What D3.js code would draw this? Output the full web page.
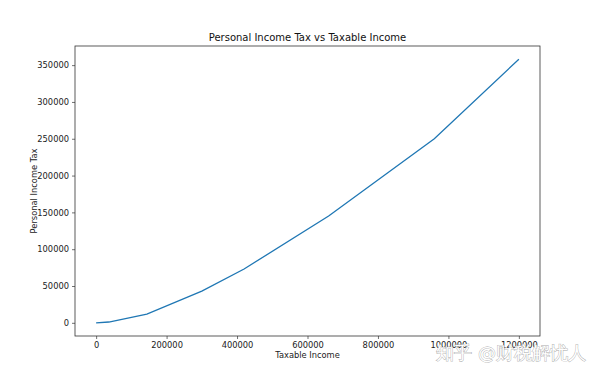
<!DOCTYPE html>
<html>
<head>
<meta charset="utf-8">
<script src="https://cdn.jsdelivr.net/npm/d3@7"></script>
<style>
  body { margin: 0; background: #fff; overflow: hidden; }
  svg { display: block; }
  text { font-family: 'DejaVu Sans', sans-serif; }
  .tick text { font-size: 8.3px; fill: #222; }
  .tick line { stroke: #333; stroke-width: 0.7; }
  .domain { display: none; }
</style>
</head>
<body>
<div id="chart"></div>
<script>
// Chart data (annual brackets)
const taxableIncome = [0, 36000, 144000, 300000, 420000, 660000, 960000, 1200000]
const incomeTax = [0, 1080, 11880, 43080, 73080, 145080, 250080, 358080]
const xTicks = [0, 200000, 400000, 600000, 800000, 1000000, 1200000]
const yTicks = [0, 50000, 100000, 150000, 200000, 250000, 300000, 350000]

const width = 600
const height = 378
const margin = { top: 46, right: 60, bottom: 42, left: 75 }
const innerWidth = width - margin.left - margin.right
const innerHeight = height - margin.top - margin.bottom

const svg = d3.select('#chart')
  .append('svg')
  .attr('width', width)
  .attr('height', height)

const g = svg.append('g')
  .attr('transform', `translate(${margin.left}, ${margin.top})`)

// matplotlib-style 5% padding on each side
const xPad = (d3.max(taxableIncome) - d3.min(taxableIncome)) * 0.05
const yPad = (d3.max(incomeTax) - d3.min(incomeTax)) * 0.05

const x = d3.scaleLinear()
  .domain([d3.min(taxableIncome) - xPad, d3.max(taxableIncome) + xPad])
  .range([0, innerWidth])
const y = d3.scaleLinear()
  .domain([d3.min(incomeTax) - yPad, d3.max(incomeTax) + yPad])
  .range([innerHeight, 0])

// Axes
g.append('g')
  .attr('transform', `translate(0, ${innerHeight})`)
  .call(d3.axisBottom(x).tickValues(xTicks).tickFormat(d3.format('d')).tickSize(3).tickPadding(3))

g.append('g')
  .call(d3.axisLeft(y).tickValues(yTicks).tickFormat(d3.format('d')).tickSize(3).tickPadding(3))

// Frame
g.append('rect')
  .attr('width', innerWidth)
  .attr('height', innerHeight)
  .attr('fill', 'none')
  .attr('stroke', '#333')
  .attr('stroke-width', 0.8)

// Line
const line = d3.line()
  .x((d, i) => x(taxableIncome[i]))
  .y(d => y(d))

g.append('path')
  .datum(incomeTax)
  .attr('fill', 'none')
  .attr('stroke', '#1f77b4')
  .attr('stroke-width', 1.3)
  .attr('d', line)

// Title and labels
svg.append('text')
  .attr('x', margin.left + innerWidth / 2)
  .attr('y', 41)
  .attr('text-anchor', 'middle')
  .attr('font-size', 10)
  .attr('fill', '#111')
  .text('Personal Income Tax vs Taxable Income')

svg.append('text')
  .attr('x', margin.left + innerWidth / 2)
  .attr('y', 358)
  .attr('text-anchor', 'middle')
  .attr('font-size', 8.3)
  .attr('fill', '#222')
  .text('Taxable Income')

svg.append('text')
  .attr('transform', `translate(37, ${margin.top + innerHeight / 2}) rotate(-90)`)
  .attr('text-anchor', 'middle')
  .attr('font-size', 8.3)
  .attr('fill', '#222')
  .text('Personal Income Tax')

// Watermark
svg.append('text')
  .attr('x', 586)
  .attr('y', 359)
  .attr('text-anchor', 'end')
  .attr('font-family', "'Noto Sans CJK SC', sans-serif")
  .attr('font-size', 18)
  .attr('fill', '#fff')
  .attr('stroke', '#aaa')
  .attr('stroke-width', 0.8)
  .attr('paint-order', 'stroke')
  .text('知乎 @财税解忧人')
</script>
</body>
</html>
